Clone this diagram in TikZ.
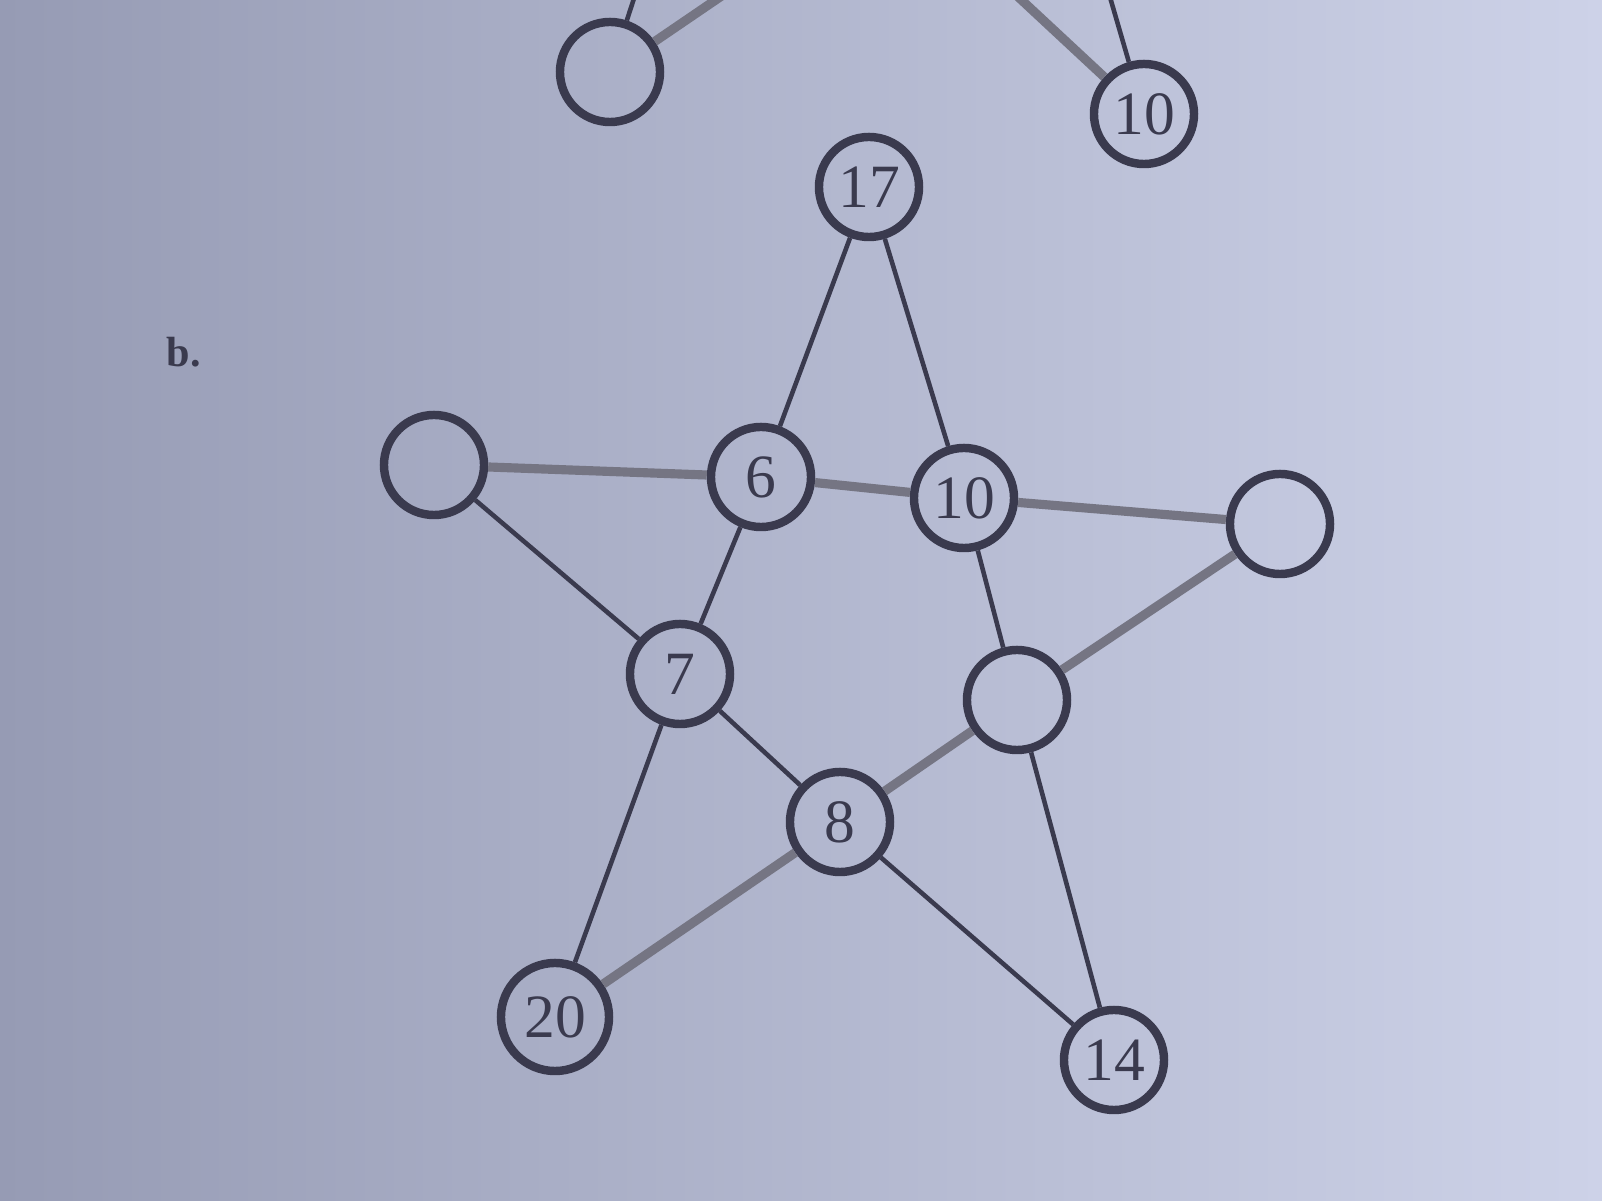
\documentclass[tikz,border=0pt]{standalone}
\usepackage{fontspec}
\setmainfont{Liberation Serif}
\begin{document}
\begin{tikzpicture}[x=0.01cm,y=-0.01cm,
  vtx/.style={circle,draw=inkc,line width=2.4pt,minimum size=1cm,inner sep=0pt,
    font=\fontsize{17.5}{20}\selectfont,text=inkc},
  thin/.style={draw=inkc,line width=1.3pt},
  fat/.style={draw=inkc!70,line width=2.6pt},
  ]
\definecolor{inkc}{RGB}{58,58,78}
\definecolor{paperL}{RGB}{150,155,180}
\definecolor{paperR}{RGB}{205,210,232}
\useasboundingbox (0,0) rectangle (1602,1201);
\clip (0,0) rectangle (1602,1201);
\shade[left color=paperL,right color=paperR] (0,0) rectangle (1602,1201);
% top partial part
\node[vtx] (tl) at (610,72) {};
\node[vtx] (tr) at (1144,114) {10};
\coordinate (tla) at (640,-20);
\coordinate (tlb) at (745,-20);
\coordinate (tra) at (1105,-20);
\coordinate (trb) at (1000,-20);
% star
\node[vtx] (n17) at (869,187) {17};
\node[vtx] (eL) at (434,465) {};
\node[vtx] (n6) at (761,477) {6};
\node[vtx] (n10) at (964,498) {10};
\node[vtx] (eR) at (1280,524) {};
\node[vtx] (n7) at (680,674) {7};
\node[vtx] (eM) at (1017,700) {};
\node[vtx] (n8) at (840,822) {8};
\node[vtx,minimum size=1.08cm] (n20) at (555,1017) {20};
\node[vtx] (n14) at (1114,1060) {14};
\node[text=inkc,font=\fontsize{12}{14}\selectfont\bfseries] (lab) at (184,352) {b.};
% edges
\draw[thin] (tl) -- (tla);
\draw[fat] (tl) -- (tlb);
\draw[thin] (tr) -- (tra);
\draw[fat] (tr) -- (trb);
\draw[thin] (n17) -- (n6);
\draw[thin] (n17) -- (n10);
\draw[fat] (eL) -- (n6);
\draw[fat] (n6) -- (n10);
\draw[fat] (n10) -- (eR);
\draw[thin] (eL) -- (n7);
\draw[thin] (n6) -- (n7);
\draw[thin] (n10) -- (eM);
\draw[fat] (eR) -- (eM);
\draw[thin] (n7) -- (n8);
\draw[fat] (n8) -- (eM);
\draw[thin] (n7) -- (n20);
\draw[fat] (n20) -- (n8);
\draw[thin] (n8) -- (n14);
\draw[thin] (eM) -- (n14);
\end{tikzpicture}
\end{document}
